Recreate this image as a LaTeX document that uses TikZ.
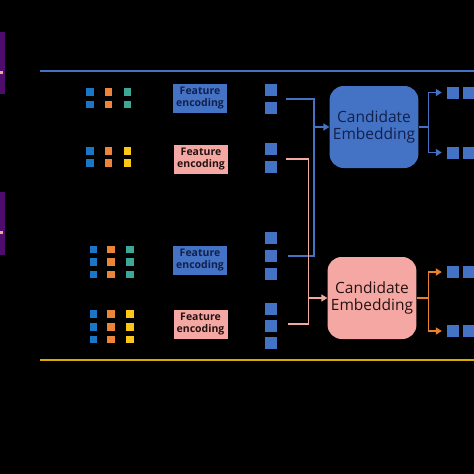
\documentclass[tikz,border=0pt]{standalone}
\usepackage{fontspec}
\setmainfont{Open Sans}
\usetikzlibrary{arrows.meta, positioning}

\definecolor{wireblue}{RGB}{68,114,196}
\definecolor{wirepink}{RGB}{242,170,160}
\definecolor{wireorange}{RGB}{232,128,44}
\definecolor{rulegold}{RGB}{214,172,0}
\definecolor{sidepurple}{RGB}{78,12,108}
\definecolor{boxpink}{RGB}{245,168,163}
\definecolor{navytext}{RGB}{18,32,76}
\definecolor{darktext}{RGB}{36,18,18}
\definecolor{dotblue}{RGB}{28,118,198}
\definecolor{dotorange}{RGB}{236,132,58}
\definecolor{dotteal}{RGB}{62,168,150}
\definecolor{dotyellow}{RGB}{250,200,22}

\begin{document}
\begin{tikzpicture}[x=1pt, y=-1pt, >={Triangle[length=6pt,width=7pt]},
    dot/.style={minimum size=7.5pt, inner sep=0pt},
    tok/.style={fill=wireblue, minimum size=12pt, inner sep=0pt},
    featbox/.style={minimum width=54pt, minimum height=29pt, inner sep=0pt, align=center,
        font=\bfseries\fontsize{10.5}{12}\selectfont},
    candbox/.style={minimum width=86pt, minimum height=82pt, rounded corners=14pt, align=center,
        font=\fontsize{15.5}{17.5}\selectfont},
    bluewire/.style={wireblue, line width=1.8pt},
    pinkwire/.style={wirepink, line width=1.8pt},
    orangewire/.style={wireorange, line width=1.8pt}]
    \fill[black] (0,0) rectangle (474,474);
    \useasboundingbox (0,0) rectangle (474,474);
    % side panels
    \fill[sidepurple] (0,32) rectangle (5,94);
    \fill[sidepurple] (0,192) rectangle (5,255);
    \fill[wirepink] (0,71) rectangle (2.5,73.5);
    \fill[wirepink] (0,231) rectangle (2.5,233.5);
    % rules
    \draw[bluewire, line width=2pt] (40,70.5) -- (474,70.5);
    \draw[rulegold, line width=2pt] (40,359.5) -- (474,359.5);
    % raw features
    \foreach \x/\col [count=\i] in {90/dotblue, 108.5/dotorange, 127.5/dotteal} {
        \node[dot, fill=\col] (ga-\i-1) at (\x,92) {};
        \node[dot, fill=\col] (ga-\i-2) at (\x,104.5) {};
    }
    \foreach \x/\col [count=\i] in {90/dotblue, 108.5/dotorange, 127.5/dotyellow} {
        \node[dot, fill=\col] (gb-\i-1) at (\x,151) {};
        \node[dot, fill=\col] (gb-\i-2) at (\x,163) {};
    }
    \foreach \x/\col [count=\i] in {93.5/dotblue, 111/dotorange, 130/dotteal} {
        \node[dot, fill=\col] (gc-\i-1) at (\x,249.5) {};
        \node[dot, fill=\col] (gc-\i-2) at (\x,262) {};
        \node[dot, fill=\col] (gc-\i-3) at (\x,274.5) {};
    }
    \foreach \x/\col [count=\i] in {93.5/dotblue, 111/dotorange, 130/dotyellow} {
        \node[dot, fill=\col] (gd-\i-1) at (\x,314) {};
        \node[dot, fill=\col] (gd-\i-2) at (\x,327) {};
        \node[dot, fill=\col] (gd-\i-3) at (\x,339.5) {};
    }
    % feature encoding
    \node[featbox, fill=wireblue, text=navytext] (fa) at (200,98.5) {Feature\\encoding};
    \node[featbox, fill=boxpink, text=darktext] (fb) at (201,159.5) {Feature\\encoding};
    \node[featbox, fill=wireblue, text=navytext] (fc) at (200,260.5) {Feature\\encoding};
    \node[featbox, fill=boxpink, text=darktext] (fd) at (200.5,324) {Feature\\encoding};
    % tokens
    \foreach \y [count=\i] in {90,107.5,149,167} \node[tok] (t\i) at (271,\y) {};
    \foreach \y [count=\i] in {238,256,273.5} \node[tok] (u\i) at (271,\y) {};
    \foreach \y [count=\i] in {308.5,326,343} \node[tok] (v\i) at (271,\y) {};
    % candidate embedding
    \node[candbox, fill=wireblue, text=navytext] (candA) at (374,127) {Candidate\\Embedding};
    \node[candbox, fill=boxpink, text=darktext] (candB) at (372,298) {Candidate\\Embedding};
    \coordinate (busA) at (314,127);
    \coordinate (busB) at (308.5,298);
    \draw[bluewire] ([xshift=9pt,yshift=2pt]t2.north east) -| (busA) |- ([xshift=11pt]u2.east);
    \draw[bluewire, ->] (busA) -- (candA.west);
    \draw[pinkwire] ([xshift=9pt,yshift=2pt]t4.north east) -| (busB) |- ([xshift=11pt,yshift=2pt]v2.east);
    \draw[pinkwire, ->] (busB) -- (candB.west);
    % outputs
    \node[tok] (oa1) at (453,92.5) {};
    \node[tok, right=4pt of oa1] (oa2) {};
    \node[tok] (oa3) at (453,152.5) {};
    \node[tok, right=4pt of oa3] (oa4) {};
    \node[tok] (ob1) at (453,272) {};
    \node[tok, right=4pt of ob1] (ob2) {};
    \node[tok] (ob3) at (453,331) {};
    \node[tok, right=4pt of ob3] (ob4) {};
    \coordinate (forkA) at (428.5,127);
    \coordinate (forkB) at (428.5,298);
    \draw[bluewire] (candA.east) -- (forkA);
    \draw[bluewire, ->, shorten >=5pt] (forkA) |- (oa1.west);
    \draw[bluewire, ->, shorten >=5pt] (forkA) |- (oa3.west);
    \draw[orangewire] (candB.east) -- (forkB);
    \draw[orangewire, ->, shorten >=5pt] (forkB) |- (ob1.west);
    \draw[orangewire, ->, shorten >=5pt] (forkB) |- (ob3.west);
\end{tikzpicture}
\end{document}
